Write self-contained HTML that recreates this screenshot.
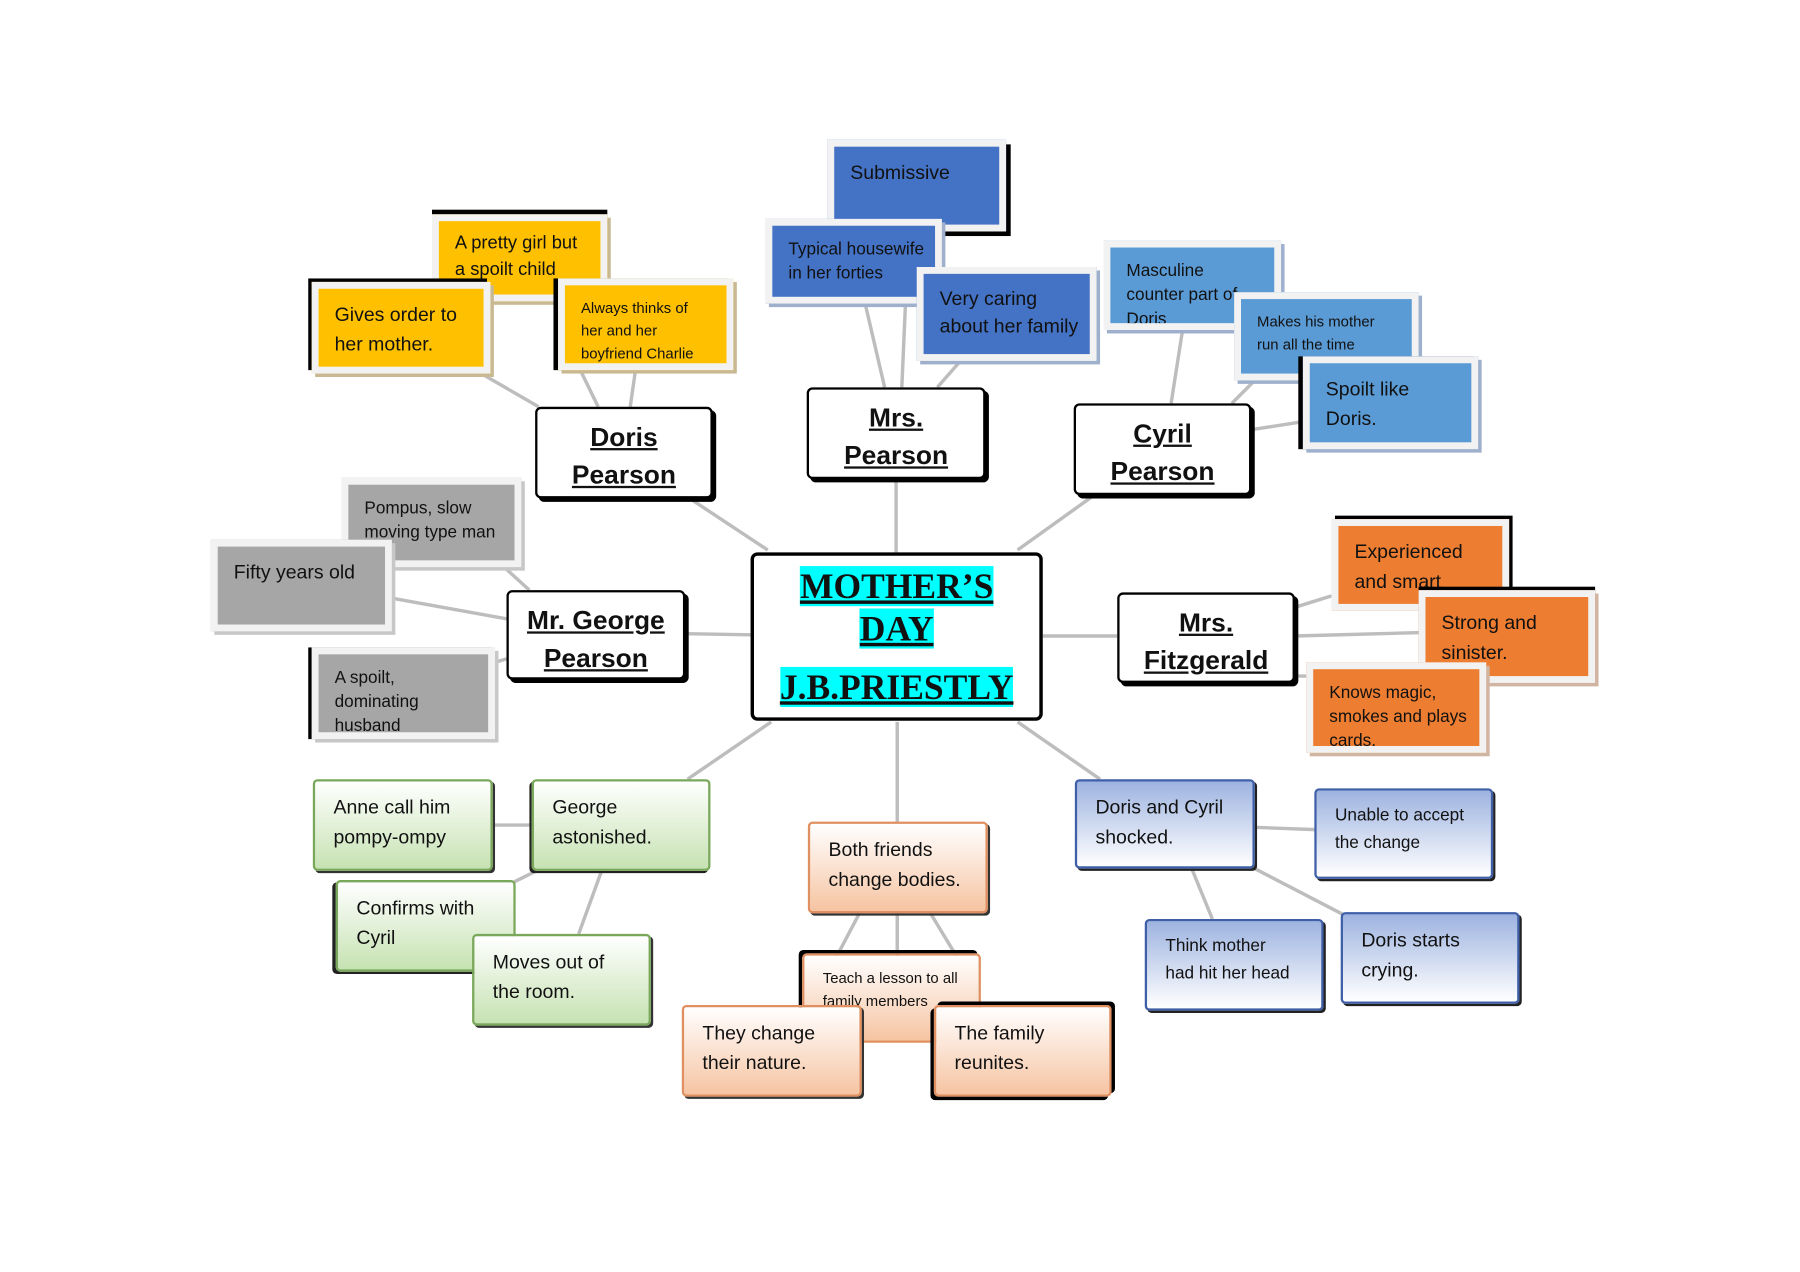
<!DOCTYPE html>
<html><head><meta charset="utf-8"><style>
html,body{margin:0;padding:0;background:#fff;}
#w{position:relative;width:1800px;height:1272px;overflow:hidden;}
#c{position:absolute;left:0;top:0;width:1571px;height:1110px;transform:scale(1.1459);transform-origin:0 0;font-family:"Liberation Sans",sans-serif;color:#111;}
.b{position:absolute;box-sizing:border-box;padding:10px 0 0 14px;line-height:26px;font-size:17px;overflow:hidden;}
.s{border:6px solid #f2f2f2;box-shadow:3px 3px 0 #c8b992;}
.y{background:#FFC000;}
.db{background:#4472C4;box-shadow:3px 3px 0 #9fb0cc;}
.lb{background:#5B9BD5;box-shadow:3px 3px 0 #9fb0cc;}
.g{background:#A6A6A6;box-shadow:3px 3px 0 #c7c7c7;}
.o{background:#ED7D31;box-shadow:3px 3px 0 #d0b6a2;}
.gr{background:linear-gradient(#fff,#c6e2b2);border:2px solid #7aa85a;border-radius:4px;box-shadow:2px 2px 0 #333;padding:10px 0 0 16px;}
.pe{background:linear-gradient(#fff,#f6c4a2);border:2px solid #e09060;border-radius:4px;box-shadow:2px 2px 0 #333;padding:10px 0 0 16px;}
.bl{background:linear-gradient(#9db3e0,#fff);border:2px solid #3f5fa8;border-radius:4px;box-shadow:2px 2px 0 #222;padding:10px 0 0 16px;}
.m{background:#fff;border:2px solid #000;border-radius:5px;box-shadow:3px 3px 0 #000;text-align:center;font-weight:bold;text-decoration:underline;font-size:23px;line-height:33px;padding:8px 0 0 0;}
.sm{font-size:13px;line-height:20px;}
.md{font-size:15px;line-height:21px;}
.ctr{background:#fff;border:3px solid #000;border-radius:6px;text-align:center;font-family:"Liberation Serif",serif;font-weight:bold;font-size:31px;line-height:37px;padding:8px 0 0 0;}
.ctr span{background:#00FFFF;text-decoration:underline;}
svg{position:absolute;left:0;top:0;}
</style></head><body><div id="w"><div id="c">
<svg width="1571" height="1110"><g stroke="#bdbdbd" stroke-width="3">
<line x1="670" y1="480" x2="605" y2="437"/><line x1="782" y1="482" x2="782" y2="418"/><line x1="888" y1="480" x2="955" y2="432"/>
<line x1="655" y1="554" x2="598" y2="553"/><line x1="910" y1="555" x2="975" y2="555"/><line x1="673" y1="630" x2="600" y2="680"/>
<line x1="783" y1="630" x2="783" y2="718"/><line x1="888" y1="630" x2="960" y2="680"/>
<line x1="420" y1="326" x2="470" y2="355"/><line x1="505" y1="320" x2="522" y2="355"/><line x1="555" y1="320" x2="550" y2="355"/>
<line x1="755" y1="265" x2="772" y2="338"/><line x1="793" y1="200" x2="787" y2="338"/><line x1="840" y1="313" x2="818" y2="338"/>
<line x1="1032" y1="288" x2="1022" y2="352"/><line x1="1095" y1="332" x2="1075" y2="352"/><line x1="1137" y1="368" x2="1092" y2="375"/>
<line x1="342" y1="522" x2="442" y2="540"/><line x1="440" y1="495" x2="462" y2="515"/><line x1="432" y1="578" x2="442" y2="575"/>
<line x1="1162" y1="520" x2="1130" y2="530"/><line x1="1130" y1="555" x2="1240" y2="552"/><line x1="1130" y1="590" x2="1145" y2="590"/>
<line x1="430" y1="720" x2="465" y2="720"/><line x1="448" y1="770" x2="468" y2="760"/><line x1="505" y1="815" x2="525" y2="760"/>
<line x1="750" y1="797" x2="730" y2="835"/><line x1="783" y1="797" x2="783" y2="835"/><line x1="812" y1="797" x2="835" y2="835"/>
<line x1="1095" y1="722" x2="1148" y2="724"/><line x1="1040" y1="758" x2="1058" y2="802"/><line x1="1095" y1="758" x2="1172" y2="798"/>
</g></svg>

<div class="b s y" style="left:377px;top:187px;width:153px;height:76px;font-size:16px;line-height:23px;padding-top:8px;box-shadow:3px 3px 0 #c8b992,0 -4px 0 #000;">A pretty girl but<br>a spoilt child</div>
<div class="b s y" style="left:272px;top:246px;width:156px;height:80px;box-shadow:3px 3px 0 #c8b992,-3px -3px 0 #000;">Gives order to<br>her mother.</div>
<div class="b s y sm" style="left:487px;top:243px;width:153px;height:80px;box-shadow:3px 3px 0 #c8b992,-4px 0 0 #000;">Always thinks of<br>her and her<br>boyfriend Charlie</div>

<div class="b s db" style="left:722px;top:122px;width:156px;height:80px;box-shadow:4px 4px 0 #000;">Submissive</div>
<div class="b s db md" style="left:668px;top:191px;width:154px;height:74px;">Typical housewife<br>in her forties</div>
<div class="b s db" style="left:800px;top:233px;width:157px;height:82px;line-height:24px;">Very caring<br>about her family</div>

<div class="b s lb md" style="left:963px;top:210px;width:155px;height:78px;">Masculine<br>counter part of<br>Doris</div>
<div class="b s lb sm" style="left:1077px;top:255px;width:161px;height:77px;">Makes his mother<br>run all the time</div>
<div class="b s lb" style="left:1137px;top:311px;width:153px;height:81px;box-shadow:3px 3px 0 #9fb0cc,-4px 0 0 #000;">Spoilt like<br>Doris.</div>

<div class="b s g md" style="left:298px;top:417px;width:157px;height:78px;">Pompus, slow<br>moving type man</div>
<div class="b s g" style="left:184px;top:471px;width:158px;height:80px;">Fifty years old</div>
<div class="b s g md" style="left:272px;top:565px;width:160px;height:80px;box-shadow:3px 3px 0 #c7c7c7,-3px 0 0 #000;">A spoilt,<br>dominating<br>husband</div>

<div class="b s o" style="left:1162px;top:453px;width:155px;height:80px;box-shadow:3px -3px 0 #000;">Experienced<br>and smart</div>
<div class="b s o" style="left:1238px;top:515px;width:154px;height:81px;box-shadow:3px 3px 0 #d0b6a2,0 -3px 0 #000;">Strong and<br>sinister.</div>
<div class="b s o md" style="left:1140px;top:578px;width:157px;height:79px;">Knows magic,<br>smokes and plays<br>cards.</div>

<div class="b m" style="left:467px;top:355px;width:155px;height:80px;">Doris<br>Pearson</div>
<div class="b m" style="left:704px;top:338px;width:156px;height:80px;">Mrs.<br>Pearson</div>
<div class="b m" style="left:937px;top:352px;width:155px;height:80px;">Cyril<br>Pearson</div>
<div class="b m" style="left:442px;top:515px;width:156px;height:78px;">Mr. George<br>Pearson</div>
<div class="b m" style="left:975px;top:517px;width:155px;height:79px;">Mrs.<br>Fitzgerald</div>

<div class="b ctr" style="left:655px;top:482px;width:255px;height:147px;"><span>MOTHER’S</span><br><span>DAY</span><div style="height:14px"></div><span>J.B.PRIESTLY</span></div>

<div class="b gr" style="left:273px;top:680px;width:157px;height:80px;">Anne call him<br>pompy-ompy</div>
<div class="b gr" style="left:464px;top:680px;width:156px;height:80px;box-shadow:-2px 2px 0 #222;">George<br>astonished.</div>
<div class="b gr" style="left:293px;top:768px;width:157px;height:80px;box-shadow:-3px 2px 0 #222;">Confirms with<br>Cyril</div>
<div class="b gr" style="left:412px;top:815px;width:156px;height:80px;">Moves out of<br>the room.</div>

<div class="b pe" style="left:705px;top:717px;width:157px;height:80px;">Both friends<br>change bodies.</div>
<div class="b pe sm" style="left:700px;top:832px;width:156px;height:78px;box-shadow:-3px -3px 0 #000;">Teach a lesson to all<br>family members</div>
<div class="b pe" style="left:595px;top:877px;width:157px;height:80px;">They change<br>their nature.</div>
<div class="b pe" style="left:815px;top:877px;width:155px;height:80px;box-shadow:3px -3px 0 #000,-3px 3px 0 #000;">The family<br>reunites.</div>

<div class="b bl" style="left:938px;top:680px;width:157px;height:78px;">Doris and Cyril<br>shocked.</div>
<div class="b bl md" style="left:1147px;top:688px;width:156px;height:79px;line-height:24px;">Unable to accept<br>the change</div>
<div class="b bl md" style="left:999px;top:802px;width:156px;height:80px;line-height:24px;">Think mother<br>had hit her head</div>
<div class="b bl" style="left:1170px;top:796px;width:156px;height:80px;">Doris starts<br>crying.</div>
</div></div></body></html>
